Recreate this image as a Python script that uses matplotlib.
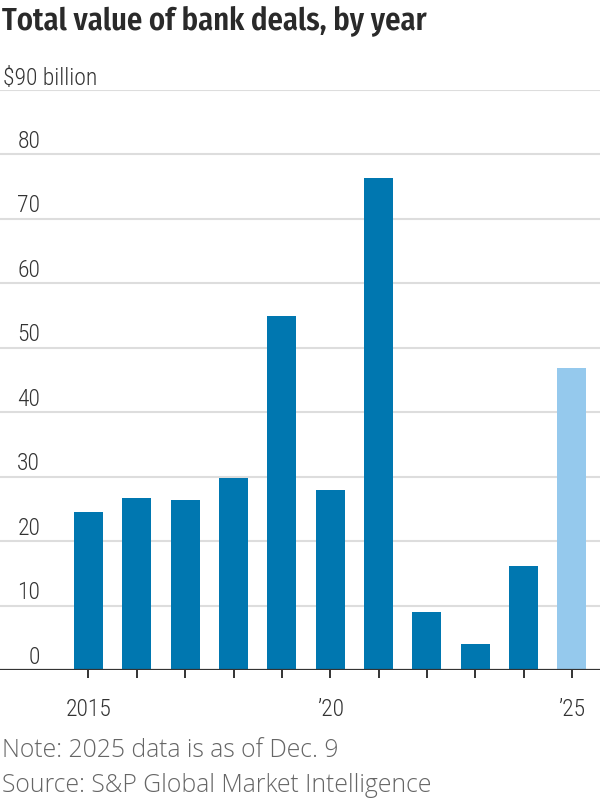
import matplotlib.pyplot as plt
from matplotlib.transforms import offset_copy

years = [2015, 2016, 2017, 2018, 2019, 2020, 2021, 2022, 2023, 2024, 2025]
values = [24.5, 26.7, 26.4, 29.8, 55.0, 28.0, 76.4, 9.0, 4.0, 16.1, 46.9]
y_ticks = [0, 10, 20, 30, 40, 50, 60, 70, 80, 90]
y_labels = ['0', '10', '20', '30', '40', '50', '60', '70', '80', '$90 billion']
x_ticks = [2015, 2020, 2025]
x_labels = ['2015', '\u201920', '\u201925']

plt.rcParams['font.family'] = ['Roboto Condensed', 'DejaVu Sans']

dark = '#0077b0'
light = '#95c9ed'
colors = [dark] * (len(years) - 1) + [light]

fig = plt.figure(figsize=(6, 8), dpi=100)
ax = fig.add_axes([0, 0.1625, 1, 0.725])

ax.bar(years, values, width=0.6, color=colors, zorder=3)

ax.set_ylim(0, 90)
ax.set_xlim(2013.17, 2025.58)

# gridlines
for t in y_ticks[1:]:
    ax.axhline(t, color='#dddddd', lw=1.5, zorder=1)
ax.axhline(0, color='#333333', lw=1.6, zorder=4)

for s in ax.spines.values():
    s.set_visible(False)

ax.set_yticks([])
ytr = ax.get_yaxis_transform()
for t, lab in zip(y_ticks, y_labels):
    if t == 90:
        tr = offset_copy(ytr, fig=fig, y=3.5, units='points')
        ax.text(0.005, t, lab, transform=tr, ha='left', va='baseline',
                fontsize=17, fontweight='light', color='#333333')
    else:
        tr = offset_copy(ytr, fig=fig, y=4.6, units='points')
        ax.text(0.067, t, lab, transform=tr, ha='right', va='baseline',
                fontsize=17, fontweight='light', color='#333333')

ax.set_xticks(years, minor=True)
ax.set_xticks(x_ticks)
ax.set_xticklabels(x_labels, fontsize=17, fontweight='light', color='#333333')
ax.tick_params(axis='x', which='both', length=6, width=1.4, color='#333333', pad=14)

fig.text(0.003, 0.964, 'Total value of bank deals, by year', fontsize=22,
         family=['Fira Sans Condensed', 'Roboto Condensed'], fontweight='semibold',
         color='#2a2a2a', ha='left', va='baseline')
fig.text(0.003, 0.054, 'Note: 2025 data is as of Dec. 9', fontsize=17.8,
         family=['Open Sans', 'DejaVu Sans'], fontweight='light',
         color='#666666', ha='left', va='baseline')
fig.text(0.003, 0.010, 'Source: S&P Global Market Intelligence', fontsize=17.8,
         family=['Open Sans', 'DejaVu Sans'], fontweight='light',
         color='#666666', ha='left', va='baseline')

fig.savefig('out.png', dpi=100)
